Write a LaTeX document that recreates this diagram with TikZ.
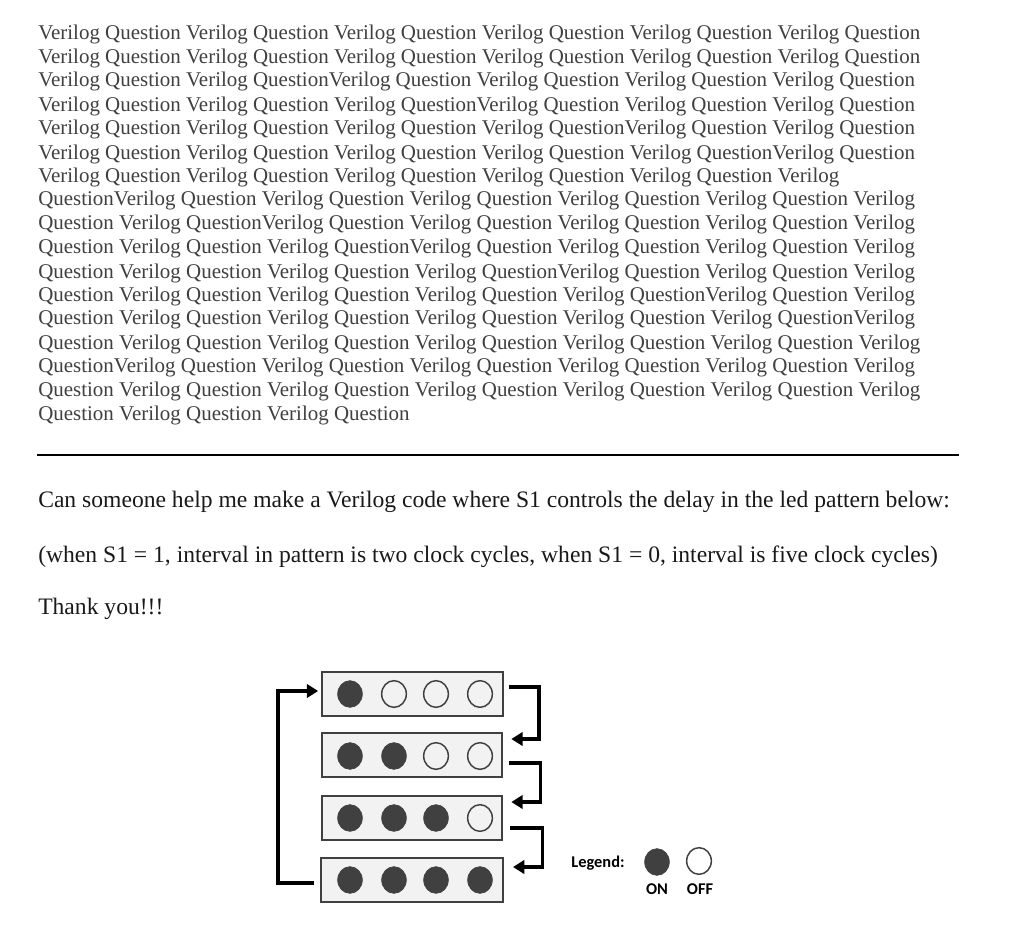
\documentclass[tikz,border=0pt]{standalone}
\usepackage{fontspec}
\setmainfont{Liberation Serif}
\newfontfamily\legendfont{Carlito}
\usetikzlibrary{arrows.meta}
\usetikzlibrary{shapes.geometric}
\definecolor{ledgray}{HTML}{404040}
\definecolor{boxgray}{HTML}{F2F2F2}
\newcommand{\vq}{Verilog Question}
\newcommand{\qv}{Question Verilog}
\tikzset{
	filler/.style={anchor=base west, inner sep=0pt, text=ledgray, font=\fontsize{15.72}{18}\selectfont},
	asktext/.style={anchor=base west, inner sep=0pt, text=black!90, font=\fontsize{17.7}{20}\selectfont},
	rowbox/.style={draw=ledgray, fill=boxgray, line width=1.5pt, minimum width=135.5pt, minimum height=32.5pt, inner sep=0pt},
	ledon/.style={ellipse, fill=ledgray, draw=ledgray, line width=0.5pt, minimum width=18.5pt, minimum height=20pt, inner sep=0pt},
	ledoff/.style={ellipse, fill=boxgray, draw=ledgray, line width=1.1pt, minimum width=18.5pt, minimum height=20pt, inner sep=0pt},
	legendtext/.style={inner sep=0pt, font=\legendfont\bfseries\fontsize{12.3}{14}\selectfont},
	flow/.style={black, line width=2.5pt, -{Triangle[length=8.5pt, width=10pt]}},
}
\begin{document}
\begin{tikzpicture}[x=0.75pt, y=-0.75pt]
\useasboundingbox (0,0) rectangle (1024,927);
\foreach \y/\txt [count=\i] in {
	40/{\vq\ \vq\ \vq\ \vq\ \vq\ \vq},
	64/{\vq\ \vq\ \vq\ \vq\ \vq\ \vq},
	87/{\vq\ \vq\vq\ \vq\ \vq\ \vq},
	112/{\vq\ \vq\ \vq\vq\ \vq\ \vq},
	135/{\vq\ \vq\ \vq\ \vq\vq\ \vq},
	160/{\vq\ \vq\ \vq\ \vq\ \vq\vq},
	183/{\vq\ \vq\ \vq\ \vq\ \vq\ Verilog},
	206/{Question\vq\ \vq\ \vq\ \vq\ \vq\ Verilog},
	230/{\qv\ Question\vq\ \vq\ \vq\ \vq\ Verilog},
	253/{\qv\ \qv\ Question\vq\ \vq\ \vq\ Verilog},
	278/{\qv\ \qv\ \qv\ Question\vq\ \vq\ Verilog},
	301/{\qv\ \qv\ \qv\ \qv\ Question\vq\ Verilog},
	324/{\qv\ \qv\ \qv\ \qv\ \qv\ QuestionVerilog},
	349/{\qv\ \qv\ \qv\ \qv\ \qv\ \qv},
	372/{Question\vq\ \vq\ \vq\ \vq\ \vq\ Verilog},
	396/{\qv\ \qv\ \qv\ \qv\ \qv\ \qv},
	420/{\qv\ \qv\ Question}}{
	\node[filler] (line\i) at (38,\y) {\txt};
}
\draw[black, line width=0.9pt](37,455)--(959,455);
\node[asktext] (ask) at (38,507) {Can someone help me make a Verilog code where S1 controls the delay in the led pattern below:};
\node[asktext] (when) at (38,562) {(when S1 = 1, interval in pattern is two clock cycles, when S1 = 0, interval is five clock cycles)};
\node[asktext] (thanks) at (38,614) {Thank you!!!};

\node[rowbox] (rowa) at (412.5,694) {};
\node[rowbox] (rowb) at (412,755) {};
\node[rowbox] (rowc) at (412,818) {};
\node[rowbox, minimum width=136.5pt] (rowd) at (412,880) {};
\foreach \rowname/\y/\lit in {rowa/694/1, rowb/756/2, rowc/818/3, rowd/880/4}{
	\foreach \x [count=\n] in {350,394,436,480}{
		\ifnum\n>\lit\def\ledstyle{ledoff}\else\def\ledstyle{ledon}\fi
		\node[\ledstyle] (\rowname\n) at (\x,\y) {};
	}
}
\draw[flow] ([shift={(5,-7)}]rowa.east) -- ++(30,0) |- ([shift={(8,-16)}]rowb.east);
\draw[flow] ([shift={(6,8)}]rowb.east) -- ++(31,0) |- ([shift={(8,-16)}]rowc.east);
\draw[flow] ([shift={(7,10)}]rowc.east) -- ++(32,0) |- ([shift={(9,-13)}]rowd.east);
\draw[flow] ([shift={(-6,3)}]rowd.west) -- ++(-36,0) |- ([shift={(-3,-3)}]rowa.west);

\node[legendtext] (legend) at (598,863) {Legend:};
\node[ledon] (legendon) at (657,862) {};
\node[ledoff, fill=white] (legendoff) at (699,861) {};
\node[legendtext] (ontext) at (657,889) {ON};
\node[legendtext] (offtext) at (700,889) {OFF};
\end{tikzpicture}
\end{document}
